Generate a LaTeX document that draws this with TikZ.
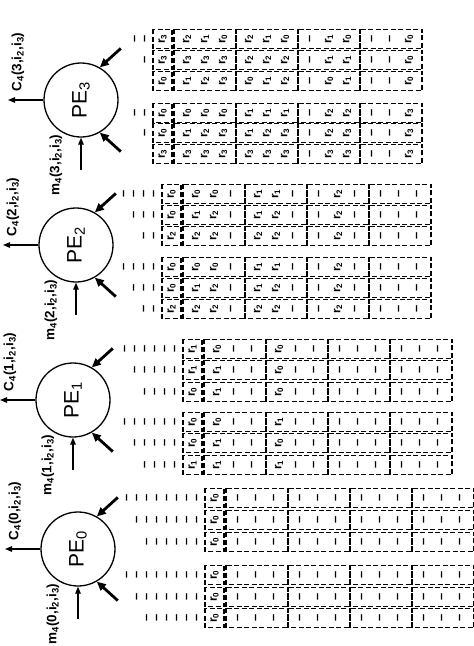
\documentclass[tikz,border=0pt]{standalone}
\usepackage{fontspec}
\setmainfont{Liberation Sans}
\usepackage{graphicx}
\usetikzlibrary{arrows.meta}
\newcommand\sub[1]{\textsubscript{#1}}
\tikzset{
  pe/.style={circle,draw,line width=1.3pt,minimum size=74pt,inner sep=0pt,font=\fontsize{21}{22}\selectfont},
  lab/.style={rotate=90,inner sep=0pt,font=\fontsize{13.5}{15}\selectfont\bfseries},
  arr/.style={-{Triangle[length=7pt,width=5.5pt]},line width=1.2pt},
  tarr/.style={-{Triangle[length=9pt,width=8pt]},line width=2.8pt},
  dbox/.style={draw,line width=1.3pt,dash pattern=on 5pt off 2.5pt},
  rl/.style={rotate=90,inner sep=0pt,font=\fontsize{12}{12}\selectfont\bfseries},
  dsh/.style={rotate=90,inner sep=0pt,font=\fontsize{13}{13}\selectfont\bfseries}
}
% #1 name prefix, #2 sx, #3 y, #4 nticks, #5 small, #6 list of 12 (9 = dash)
\newcommand\prow[6]{%
  \ifnum#4>0
    \foreach \t in {1,...,#4}{\node[dsh] (#1t\t) at ({#2-7-(\t-1)*10},#3) {–};}
  \fi
  \draw[dbox] (#2,#3-9.75) rectangle (#2+19,#3+9.75);
  \node[rl] (#1s) at (#2+9.5,#3) {r\sub{#5}};
  \foreach \j in {0,1,2,3}{\draw[dbox] ({#2+21+62*\j},#3-9.75) rectangle ({#2+21+62*(\j+1)},#3+9.75);}
  \foreach \v [count=\i from 0] in {#6}{%
    \pgfmathsetmacro\xx{#2+21+62*floor(\i/3)+13+18*mod(\i,3)}%
    \ifnum\v=9 \node[dsh] (#1c\i) at (\xx,#3) {–};\else\node[rl] (#1c\i) at (\xx,#3) {r\sub{\v}};\fi
  }%
}
% #1 k, #2 cx, #3 cy
\newcommand\pecell[3]{%
  \node[pe] (pe#1) at (#2,#3) {\rotatebox{90}{PE\sub{#1}}};
  \coordinate (co#1) at (#2-73,#3);
  \draw[arr] (pe#1.west) -- (co#1);
  \node[lab] (cl#1) at (#2-63,#3-38) {C\sub{4}(#1,i\sub{2},i\sub{3})};
  \coordinate (mi#1) at (#2,#3+70);
  \draw[arr] (mi#1) -- (pe#1.south);
  \node[lab] (ml#1) at (#2-25,#3+65) {m\sub{4}(#1,i\sub{2},i\sub{3})};
  \coordinate (ua#1) at ([shift={(21,-19)}]pe#1.60);
  \coordinate (la#1) at ([shift={(21,19)}]pe#1.-60);
  \draw[tarr] (ua#1) -- (pe#1.60);
  \draw[tarr] (la#1) -- (pe#1.-60);
}
\begin{document}
\begin{tikzpicture}[x=1pt,y=-1pt]
\useasboundingbox (0,0) rectangle (474,646);
\pecell{3}{81}{100}
\pecell{2}{76}{245}
\pecell{1}{73}{400}
\pecell{0}{78}{549}
% PE3
\prow{a3}{153}{39}{2}{3}{2,1,0,2,1,0,9,1,0,9,9,0}
\prow{b3}{153}{60}{1}{3}{3,3,3,2,2,2,9,1,1,9,9,0}
\prow{c3}{153}{81}{0}{0}{1,2,3,0,1,2,9,0,1,9,9,0}
\prow{d3}{153}{113}{2}{0}{0,0,0,1,1,1,9,2,2,9,9,3}
\prow{e3}{153}{133}{1}{0}{1,2,3,1,2,3,9,2,3,9,9,3}
\prow{f3}{153}{154}{0}{3}{3,3,3,3,3,3,9,3,3,9,9,3}
% PE2
\prow{a2}{162}{194}{4}{0}{0,0,9,1,1,9,9,2,9,9,9,9}
\prow{b2}{162}{215}{3}{0}{1,2,9,1,2,9,9,2,9,9,9,9}
\prow{c2}{162}{236}{2}{2}{2,2,9,2,2,9,9,2,9,9,9,9}
\prow{d2}{162}{267}{4}{0}{0,0,9,1,1,9,9,2,9,9,9,9}
\prow{e2}{162}{288}{3}{0}{1,2,9,1,2,9,9,2,9,9,9,9}
\prow{f2}{162}{309}{2}{2}{2,2,9,2,2,9,9,2,9,9,9,9}
% PE1
\prow{a1}{183}{349}{6}{1}{0,9,9,0,9,9,9,9,9,9,9,9}
\prow{b1}{183}{370}{5}{1}{1,9,9,0,9,9,9,9,9,9,9,9}
\prow{c1}{183}{392}{4}{0}{1,9,9,0,9,9,9,9,9,9,9,9}
\prow{d1}{183}{422}{6}{0}{0,9,9,1,9,9,9,9,9,9,9,9}
\prow{e1}{183}{443}{5}{0}{1,9,9,0,9,9,9,9,9,9,9,9}
\prow{f1}{183}{465}{4}{1}{1,9,9,1,9,9,9,9,9,9,9,9}
% PE0
\prow{a0}{205}{498}{8}{0}{9,9,9,9,9,9,9,9,9,9,9,9}
\prow{b0}{205}{520}{7}{0}{9,9,9,9,9,9,9,9,9,9,9,9}
\prow{c0}{205}{542}{6}{0}{9,9,9,9,9,9,9,9,9,9,9,9}
\prow{d0}{205}{575}{8}{0}{9,9,9,9,9,9,9,9,9,9,9,9}
\prow{e0}{205}{597}{7}{0}{9,9,9,9,9,9,9,9,9,9,9,9}
\prow{f0}{205}{618}{6}{0}{9,9,9,9,9,9,9,9,9,9,9,9}
\end{tikzpicture}
\end{document}
